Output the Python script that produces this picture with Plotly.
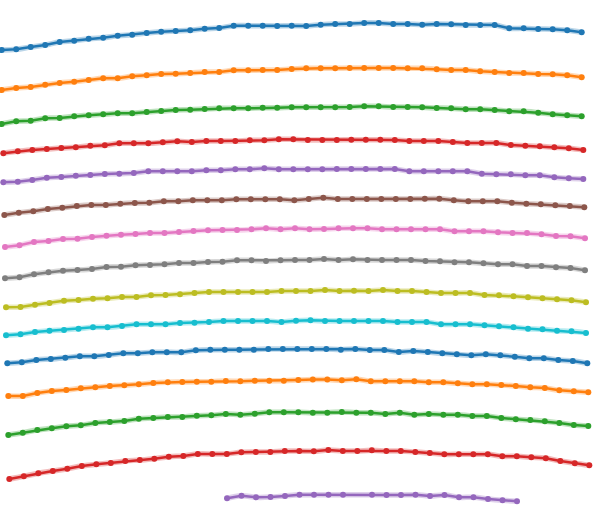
import numpy as np
import plotly.graph_objects as go

colors = ["#1f77b4", "#ff7f0e", "#2ca02c", "#d62728", "#9467bd", "#8c564b", "#e377c2",
          "#7f7f7f", "#bcbd22", "#17becf", "#1f77b4", "#ff7f0e", "#2ca02c", "#d62728", "#9467bd"]

x_step = 14.5
x_start = [1.7, 1.7, 1.7, 3.3, 3.3, 4.3, 5.0, 5.0, 6.0, 6.0, 7.3, 8.3, 8.3, 9.3, 227.0]

s1 = [50, 49.3, 47, 45, 42, 40.7, 38.7, 37.7, 35.7, 34.7, 33, 31.7, 31, 30.3, 28.7, 28, 25.7, 25.7, 25.7, 26, 25.7,
      26, 24.7, 24, 24, 23, 23, 24, 24, 24.7, 24, 24.3, 25, 25, 25, 28.3, 28.3, 29, 29.3, 30.3, 32.3]
s2 = [90, 88, 87, 84.7, 83, 81.7, 80, 78.3, 78.3, 76.3, 75.3, 74, 73.7, 73, 72, 72, 70.3, 70.3, 70, 70, 69,
      68.3, 68.3, 68.3, 68, 68, 68, 68, 68.3, 68.3, 69.3, 70, 70, 71.3, 72, 73, 73, 74, 74.3, 75.3, 77.3]
s3 = [124, 121.3, 120.7, 118.3, 118, 116.3, 115.3, 114.3, 113.3, 113.3, 112, 111, 110, 109.7, 109, 108.3, 108.3, 108.3, 107.7, 107.7, 107.3,
      107.3, 107.3, 107.3, 107, 106.3, 106.3, 107, 107, 107.3, 108, 108.3, 109.3, 109.3, 110, 111.3, 111.3, 112.7, 114.3, 115.3, 116.3]
s4 = [153.3, 151.3, 150, 149, 148, 147.3, 145.7, 145.3, 143.3, 143.3, 143.3, 142.3, 141.3, 142, 141, 141, 141, 140.3, 140.3, 139.3, 139.3,
      140, 140, 140, 139.7, 139.7, 139.7, 140, 141, 141, 141, 142, 143, 143, 143, 145, 145.7, 146.3, 147.3, 148.3, 150]
s5 = [182.3, 181.7, 180, 177.7, 177, 175.7, 175, 174, 173.7, 173, 171.3, 171.3, 171.3, 171.3, 170.3, 170.3, 169.3, 169.3, 168.3, 169.3, 169.3,
      169.3, 169.3, 169, 169, 169, 169, 169, 171.3, 171.3, 171.3, 171.3, 171.3, 173.7, 174.3, 174.3, 175.3, 175.3, 177.3, 178.3, 179]
s6 = [215, 212.7, 211.3, 209, 207.7, 206, 205, 205, 203.7, 203, 202.7, 201.3, 201.3, 200.3, 200.3, 200.3, 199.3, 199.3, 199.3, 199.3, 200.3,
      199, 197.7, 199, 199, 199, 199, 199, 199, 198.7, 198.7, 200.3, 201.3, 201.3, 201.3, 202.7, 203.7, 204.3, 205.3, 206, 207.3]
s7 = [247, 245.3, 242, 241, 239, 238.7, 237, 235.7, 234.7, 234, 233, 233, 232, 231, 230.3, 230, 230, 229.3, 228.3, 229.3, 228.3,
      229.3, 229, 228.3, 228.3, 228.3, 229.3, 229.3, 229.3, 229.3, 229.3, 231.3, 231.3, 231.3, 232.3, 233, 233, 234.3, 236, 236.3, 238.3]
s8 = [278.3, 277.3, 274.3, 272.3, 270.7, 270, 269, 267, 266.7, 265.3, 265, 264.3, 263, 263, 262, 261.7, 260.3, 260.3, 261, 260.3, 260,
      260, 259, 260, 259.3, 260, 260, 260, 260, 261, 261.3, 262.3, 262.3, 263.3, 264.3, 264.3, 266, 266, 267.3, 268, 270.3]
s9 = [307.3, 307, 304.7, 303, 300.7, 300, 298.7, 298.3, 297, 297, 295.3, 295, 294.3, 293, 292, 292, 292, 292, 292, 291, 291,
      291, 290, 291, 290.7, 291, 290, 291, 291, 292, 293, 293, 293, 295, 295.3, 296.3, 297.3, 298.3, 299.3, 300.3, 302.3]
s10 = [335.3, 334.3, 332, 330.7, 330, 328.7, 327.3, 327.3, 326, 324.3, 324.3, 324.3, 323, 322.7, 322, 321, 321, 321, 321, 322, 320.7,
       320.3, 321, 321, 321, 321, 321, 322, 322, 322, 324.3, 324.3, 324.3, 325.3, 326.3, 327.3, 328.7, 329.3, 330.7, 331.3, 333]
s11 = [363.3, 362.3, 360, 359, 357.7, 356.3, 356.3, 355, 353.3, 353.3, 352.3, 352.3, 352.3, 350.3, 349.7, 349.7, 349.7, 349.7, 349, 349, 349,
       349, 349, 349.7, 349, 350, 350, 352, 351, 352, 353.3, 354.3, 355.3, 354.3, 355.3, 356.7, 358.3, 358.3, 360, 361, 363.3]
s12 = [396, 396, 393, 391, 390, 388.3, 387.3, 386, 385.3, 384.3, 383, 382.3, 382, 381.7, 381.7, 381, 381.3, 380.7, 380.7, 380.7, 380,
       379.5, 379.5, 380.3, 379.3, 381.3, 381.3, 381.3, 381.3, 382.3, 382.3, 383.3, 384.2, 384.2, 384.9, 386, 387.3, 388, 390.3, 391.3, 392.3]
s13 = [435, 432.7, 430, 428.3, 426.3, 425.3, 423, 422, 421, 418.7, 418, 417, 417, 415.7, 415.3, 414, 414.7, 413.7, 412.3, 412.3, 412.3,
       412.7, 412.7, 412, 412.7, 412.7, 414, 412.7, 414.7, 414, 414.7, 414.7, 416, 416, 418, 419.3, 420, 421.3, 423, 425, 426]
s14 = [479, 476.3, 473.3, 471, 468.7, 466, 464.3, 463, 461, 460, 458.7, 456.7, 456, 454, 454, 454, 452.3, 452, 452, 451, 451,
       451.3, 450, 451, 451, 450.3, 451, 451, 452, 453, 454.3, 454.3, 454.3, 454.3, 456.3, 456.3, 457.3, 458.3, 461, 463.3, 465.3]
s15 = [498.3, 495.8, 497.3, 497.1, 495.9, 494.8, 494.8, 494.7, 494.7, None, 494.7,
       495, 495, 494.7, 496, 495, 497.3, 497.3, 499, 500.3, 501.3]

series = [s1, s2, s3, s4, s5, s6, s7, s8, s9, s10, s11, s12, s13, s14, s15]

fig = go.Figure()
for ys, x0, c in zip(series, x_start, colors):
    xs = x0 + x_step * np.arange(len(ys))
    fig.add_trace(go.Scatter(x=xs, y=ys, mode="lines", line=dict(color=c, width=5.5, shape="spline"),
                             opacity=0.3, connectgaps=True, hoverinfo="skip", showlegend=False))
    fig.add_trace(go.Scatter(x=xs, y=ys, mode="lines+markers", line=dict(color=c, width=2.5),
                             marker=dict(color=c, size=6), connectgaps=True, showlegend=False))

fig.update_layout(
    width=600, height=512,
    margin=dict(l=0, r=0, t=0, b=0),
    paper_bgcolor="white", plot_bgcolor="white",
    xaxis=dict(range=[0, 600], visible=False),
    yaxis=dict(range=[512, 0], visible=False),
)
fig.write_html("out.html", config={"displayModeBar": False},
               post_script="document.body.style.margin='0';document.body.style.overflow='hidden';")
